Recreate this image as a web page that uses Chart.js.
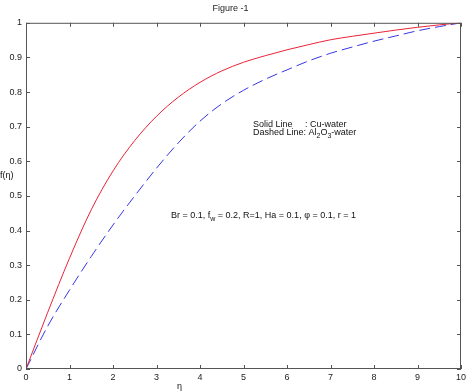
<!DOCTYPE html>
<html>
<head>
<meta charset="utf-8">
<script src="https://cdn.jsdelivr.net/npm/chart.js@4"></script>
<style>
  body { margin: 0; background: #fff; }
  #wrap { width: 474px; height: 392px; }
</style>
</head>
<body>
<div id="wrap"><canvas id="figChart"></canvas></div>
<script>
// eta values and f(eta)
const eta = [0, 0.5, 1, 1.5, 2, 2.5, 3, 3.5, 4, 4.5, 5, 5.5, 6, 6.5, 7, 7.5, 8, 8.5, 9, 9.5, 10];
const cuWater = [0, 0.164, 0.32, 0.46, 0.572, 0.66, 0.73, 0.785, 0.828, 0.861, 0.886, 0.905, 0.922, 0.937, 0.951, 0.961, 0.970, 0.979, 0.987, 0.994, 1];
const al2o3Water = [0, 0.124, 0.228, 0.325, 0.416, 0.5, 0.58, 0.653, 0.716, 0.766, 0.805, 0.837, 0.864, 0.89, 0.912, 0.93, 0.947, 0.962, 0.977, 0.989, 1];

const xTicks = [0, 1, 2, 3, 4, 5, 6, 7, 8, 9, 10];
const yTicks = [0, 0.1, 0.2, 0.3, 0.4, 0.5, 0.6, 0.7, 0.8, 0.9, 1];

const toPoints = (ys) => eta.map((x, i) => ({ x: x, y: ys[i] }));

// draws text runs, some of them as subscripts
function drawRuns(ctx, runs, x, y) {
    runs.forEach(r => {
        ctx.font = (r.sub ? '7px' : '9px') + ' Arial, "Liberation Sans", sans-serif';
        ctx.fillText(r.t, x, y + (r.sub ? 3 : 0));
        x += ctx.measureText(r.t).width;
    });
}

// MATLAB-like box with inward ticks, plus the text annotations
const framePlugin = {
    id: 'frame',
    afterDatasetsDraw(chart) {
        const { ctx, chartArea: a, scales } = chart;
        ctx.save();
        ctx.strokeStyle = '#555';
        ctx.lineWidth = 1;
        ctx.strokeRect(a.left + 0.5, a.top + 0.5, a.right - a.left - 1, a.bottom - a.top - 1);
        ctx.beginPath();
        xTicks.forEach(v => {
            const px = Math.round(scales.x.getPixelForValue(v)) + 0.5;
            ctx.moveTo(px, a.bottom); ctx.lineTo(px, a.bottom - 4);
            ctx.moveTo(px, a.top); ctx.lineTo(px, a.top + 4);
        });
        yTicks.forEach(v => {
            const py = Math.round(scales.y.getPixelForValue(v)) + 0.5;
            ctx.moveTo(a.left, py); ctx.lineTo(a.left + 4, py);
            ctx.moveTo(a.right, py); ctx.lineTo(a.right - 4, py);
        });
        ctx.stroke();

        ctx.fillStyle = '#111';
        ctx.textBaseline = 'middle';
        ctx.textAlign = 'left';
        drawRuns(ctx, [{ t: 'Solid Line     : Cu-water' }], 253, 125);
        drawRuns(ctx, [{ t: 'Dashed Line: Al' }, { t: '2', sub: true }, { t: 'O' }, { t: '3', sub: true }, { t: '-water' }], 253, 133);
        drawRuns(ctx, [{ t: 'Br = 0.1, f' }, { t: 'w', sub: true }, { t: ' = 0.2, R=1, Ha = 0.1, \u03C6 = 0.1, r = 1' }], 171, 216);

        ctx.font = '9px Arial, "Liberation Sans", sans-serif';
        ctx.fillText('f(\u03B7)', 0, 176);
        ctx.fillText('\u03B7', 177, 387);
        ctx.restore();
    }
};

const ctx = document.getElementById('figChart').getContext('2d');

new Chart(ctx, {
    type: 'line',
    data: {
        datasets: [{
            label: 'Cu-water',
            data: toPoints(cuWater),
            borderColor: 'rgb(235, 35, 55)',
            borderWidth: 1,
            pointRadius: 0,
            cubicInterpolationMode: 'monotone'
        }, {
            label: 'Al2O3-water',
            data: toPoints(al2o3Water),
            borderColor: 'rgb(55, 55, 230)',
            borderWidth: 1,
            borderDash: [11, 5],
            pointRadius: 0,
            cubicInterpolationMode: 'monotone'
        }]
    },
    options: {
        responsive: true,
        maintainAspectRatio: false,
        animation: false,
        layout: { padding: { left: 0, right: 13, top: 0, bottom: 0 } },
        scales: {
            x: {
                type: 'linear',
                min: 0,
                max: 10,
                afterFit: (s) => { s.height = 23; },
                afterBuildTicks: (s) => { s.ticks = xTicks.map(v => ({ value: v })); },
                grid: { display: false, drawTicks: false },
                border: { display: false },
                ticks: { color: '#222', padding: 3, maxRotation: 0, font: { size: 9, family: 'Arial, "Liberation Sans", sans-serif' } }
            },
            y: {
                min: 0,
                max: 1,
                afterFit: (s) => { s.width = 26; },
                afterBuildTicks: (s) => { s.ticks = yTicks.map(v => ({ value: v })); },
                grid: { display: false, drawTicks: false },
                border: { display: false },
                ticks: {
                    color: '#222',
                    padding: 4,
                    font: { size: 9, family: 'Arial, "Liberation Sans", sans-serif' },
                    callback: (v) => String(v)
                }
            }
        },
        plugins: {
            legend: { display: false },
            tooltip: { enabled: false },
            title: {
                display: true,
                text: 'Figure -1',
                color: '#222',
                font: { size: 9, weight: 'normal', family: 'Arial, "Liberation Sans", sans-serif' },
                padding: { top: 3, bottom: 9 }
            }
        }
    },
    plugins: [framePlugin]
});
</script>
</body>
</html>
